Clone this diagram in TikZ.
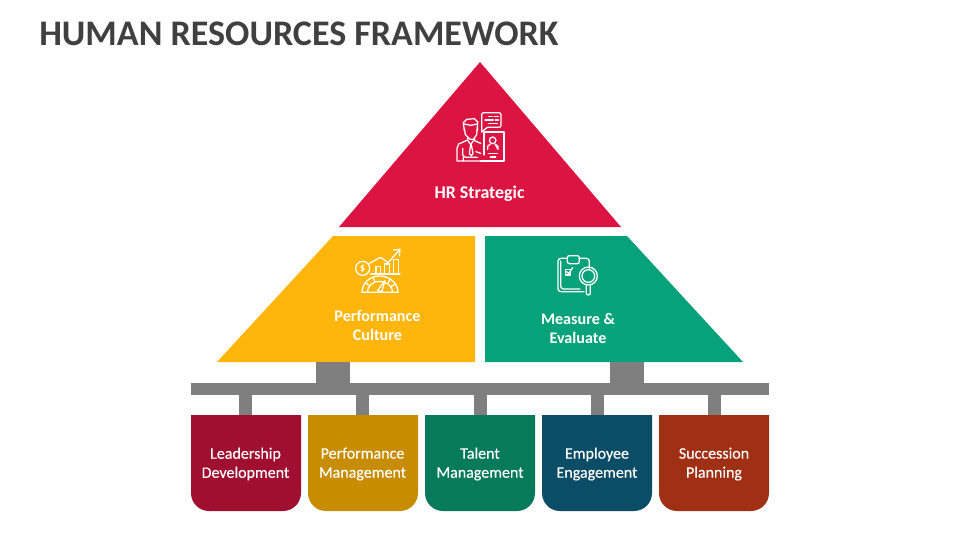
\documentclass[tikz,border=0pt]{standalone}
\usepackage{fontspec}
\setmainfont{Carlito}
\newfontfamily\boxfont[FakeBold=0.25]{Carlito}
\definecolor{ttl}{HTML}{404040}
\definecolor{cRed}{HTML}{DC1442}
\definecolor{cYel}{HTML}{FFB50A}
\definecolor{cGrn}{HTML}{07A279}
\definecolor{cGry}{HTML}{7F7F7F}
\definecolor{bA}{HTML}{A10F30}
\definecolor{bB}{HTML}{C88C00}
\definecolor{bC}{HTML}{067A5B}
\definecolor{bD}{HTML}{0B4D66}
\definecolor{bE}{HTML}{A03013}
\tikzset{
  x=0.75pt,y=-0.75pt,
  blocklabel/.style={text=white,font=\fontsize{12.1}{14.3}\selectfont\bfseries,align=center,inner sep=0pt},
  boxlabel/.style={text=white,font=\boxfont\fontsize{12}{14.3}\selectfont,align=center,inner sep=0pt},
  ico/.style={draw=white,line width=0.95pt,line cap=round,line join=round,fill=none},
  bar/.style={fill=cGry,draw=none}
}
\begin{document}
\begin{tikzpicture}
\useasboundingbox (0,0) rectangle (960,540);
\fill[white] (0,0) rectangle (960,540);
\node[anchor=west,inner sep=0pt,text=ttl,font=\fontsize{27}{31}\selectfont\bfseries] (title) at (39,34) {HUMAN RESOURCES FRAMEWORK};

% pyramid
\fill[cRed] (480,62) -- (621,227) -- (339,227) -- cycle;
\fill[cYel] (333,236) -- (475,236) -- (475,362) -- (217,362) -- cycle;
\fill[cGrn] (485,236) -- (627,236) -- (743,362) -- (485,362) -- cycle;

% bars
\fill[bar] (316,362) rectangle (350,384);
\fill[bar] (610,362) rectangle (644,384);
\fill[bar] (191,383) rectangle (769,395);
\foreach \c in {245.5,362.5,480,597,714.5}{
  \fill[bar] (\c-6.5,395) rectangle (\c+6.5,416);
}

% boxes
\foreach \l/\col in {191/bA,308/bB,425/bC,542/bD,659/bE}{
  \fill[\col] (\l,415) -- (\l+110,415) -- (\l+110,493) arc[start angle=0,end angle=90,radius=18] -- (\l+18,511) arc[start angle=90,end angle=180,radius=18] -- cycle;
}

\node[blocklabel,font=\fontsize{13.4}{15}\selectfont\bfseries] (hr) at (479.5,193.5) {HR Strategic};
\node[blocklabel] (pc) at (377.5,325.5) {Performance\\Culture};
\node[blocklabel] (me) at (578,328.5) {Measure \&\\Evaluate};
\node[boxlabel] (b1) at (245.5,464) {Leadership\\Development};
\node[boxlabel] (b2) at (362.5,464) {Performance\\Management};
\node[boxlabel] (b3) at (480,464) {Talent\\Management};
\node[boxlabel] (b4) at (597,464) {Employee\\Engagement};
\node[boxlabel] (b5) at (714,464) {Succession\\Planning};

% HR icon (zoom coordinates)
\begin{scope}[shift={(440,100)},x=0.25pt,y=-0.25pt]
  \draw[ico] (125,82) -- (125,44) to[out=90,in=180] (131,38) -- (177,38) to[out=0,in=90] (183,44) -- (183,76) to[out=-90,in=0] (177,82) -- (142,82) -- (125,96) -- cycle;
  \draw[ico] (146,50) -- (156,50) (162,50) -- (175,50) (135,60) -- (160,60) (166,60) -- (175,60) (146,70) -- (172,70);
  \draw[ico] (132,96) -- (192,96) -- (192,183) -- (122,183);
  \draw[ico] (132,96) -- (132,165);
  \draw[ico] (158,121) circle (10);
  \draw[ico] (143,148) -- (143,139) -- (151,132) (165,132) -- (174,139) -- (174,148) -- cycle;
  \draw[ico] (146,160) -- (172,160) (151,171) -- (167,171);
  \draw[ico] (73,92) -- (70,68) -- (80,58) -- (103,56) -- (113,66) -- (112,92);
  \draw[ico] (73,84) -- (76,104) -- (90,118) -- (100,118) -- (110,104) -- (112,80);
  \draw[ico] (73,72) -- (92,76) -- (112,72);
  \draw[ico] (83,112) -- (83,120) -- (56,132) -- (51,145) -- (51,183) -- (122,183);
  \draw[ico] (104,116) -- (104,122) -- (122,130);
  \draw[ico] (84,122) -- (92,134) -- (100,122);
  \draw[ico] (92,134) -- (88,160) -- (94,168) -- (99,160) -- (94,134);
  \draw[ico] (68,145) -- (68,165) -- (76,172) -- (112,172) (70,172) -- (70,183);
  \draw[ico] (108,155) -- (122,160);
\end{scope}

% Performance icon
\begin{scope}[shift={(340,240)},x=0.25pt,y=-0.25pt]
  \draw[ico] (68,85) circle (21);
  \node[text=white,font=\fontsize{8}{8}\selectfont\bfseries,inner sep=0pt] (dollar) at (68,85) {\$};
  \draw[ico] (88,70) -- (122,52) -- (144,68) -- (178,30);
  \draw[ico] (160,30) -- (180,28) -- (178,48);
  \draw[ico] (108,102) -- (108,80) -- (122,80) -- (122,102);
  \draw[ico] (134,102) -- (134,72) -- (148,72) -- (148,102);
  \draw[ico] (160,102) -- (160,58) -- (176,58) -- (176,102) (92,102) -- (180,102);
  \draw[ico] (66,157) to[out=90,in=180] (118,108) to[out=0,in=90] (174,157) -- cycle;
  \draw[ico] (82,157) to[out=90,in=180] (118,124) to[out=0,in=90] (158,157);
  \draw[ico] (112,152) -- (135,122) -- (126,154) -- cycle;
  \draw[ico] (78,130) -- (88,136) (100,114) -- (104,124) (150,118) -- (145,128) (164,133) -- (153,140);
\end{scope}

% Measure icon
\begin{scope}[shift={(540,245)},x=0.25pt,y=-0.25pt]
  \draw[ico,rounded corners=2.2pt] (82,40) -- (54,40) -- (54,140) -- (132,140);
  \draw[ico,rounded corners=2.2pt] (118,40) -- (148,40) -- (148,70);
  \draw[ico,rounded corners=2.2pt] (62,48) -- (62,132) -- (120,132);
  \draw[ico,rounded corners=1.5pt] (82,32) rectangle (118,56);
  \draw[ico] (76,74) rectangle (92,90);
  \draw[ico] (80,80) -- (86,86) -- (98,68);
  \draw[ico] (145,93) circle (27);
  \draw[ico] (145,93) circle (19);
  \draw[ico,rounded corners=1.5pt] (139,122) -- (139,150) -- (151,150) -- (151,122);
\end{scope}
\end{tikzpicture}
\end{document}
